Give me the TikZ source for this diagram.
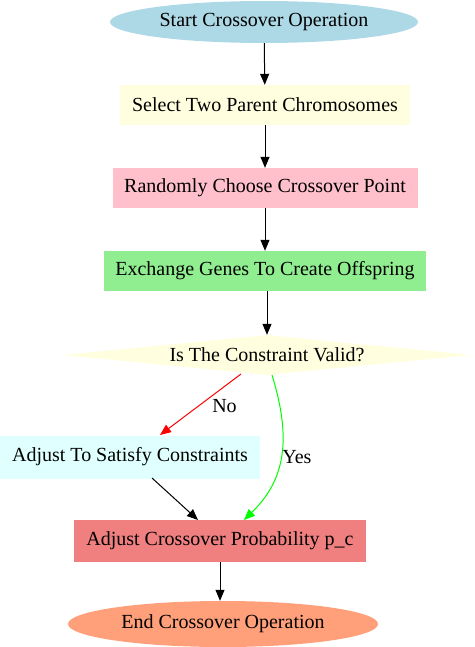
\documentclass[tikz,border=0pt]{standalone}
\usepackage{fontspec}
\setmainfont{Liberation Serif}
\usetikzlibrary{shapes.geometric,arrows.meta}
\definecolor{cstart}{RGB}{173,216,230}
\definecolor{cselect}{RGB}{255,255,224}
\definecolor{crand}{RGB}{255,192,203}
\definecolor{cexch}{RGB}{144,238,144}
\definecolor{cdiam}{RGB}{255,255,224}
\definecolor{cadj}{RGB}{224,255,255}
\definecolor{cprob}{RGB}{240,128,128}
\definecolor{cend}{RGB}{255,160,122}
\definecolor{cno}{RGB}{255,0,0}
\definecolor{cyes}{RGB}{0,255,0}
\begin{document}
\begin{tikzpicture}[x=1pt,y=-1pt,
  every node/.style={font=\fontsize{20}{24}\selectfont, inner sep=0pt},
  boxnode/.style={rectangle, minimum height=40pt},
  ellnode/.style={ellipse, minimum height=42pt},
  arr/.style={-{Triangle[length=11pt,width=9pt]}, line width=1pt},
  lbl/.style={font=\fontsize{20}{24}\selectfont}]
\useasboundingbox (0,0) rectangle (474,647);
\node[ellnode, fill=cstart, minimum width=308pt] (start) at (264,22) {Start Crossover Operation};
\node[boxnode, fill=cselect, minimum width=290pt] (select) at (265,105) {Select Two Parent Chromosomes};
\node[boxnode, fill=crand, minimum width=305pt] (rand) at (265,188) {Randomly Choose Crossover Point};
\node[boxnode, fill=cexch, minimum width=322pt] (exch) at (265,271) {Exchange Genes To Create Offspring};
\node[diamond, fill=cdiam, minimum width=410pt, minimum height=40pt, aspect=10] (diam) at (267,355) {Is The Constraint Valid?};
\node[boxnode, fill=cadj, minimum width=260pt, minimum height=43pt] (adj) at (130,457) {Adjust To Satisfy Constraints};
\node[boxnode, fill=cprob, minimum width=292pt, minimum height=42pt] (prob) at (220,541) {Adjust Crossover Probability p\_c};
\node[ellnode, fill=cend, minimum width=310pt, minimum height=46pt] (end) at (223,624) {End Crossover Operation};
\coordinate (noS) at (241,374);
\coordinate (noE) at (160,435);
\coordinate (yesS) at (272,375);
\coordinate (yesE) at (244,520);
\coordinate (adjS) at (152,478);
\coordinate (adjE) at (198,520);
\draw[arr] (start) -- (select);
\draw[arr] (select) -- (rand);
\draw[arr] (rand) -- (exch);
\draw[arr] (exch.south -| diam.north) -- (diam.north);
\draw[arr, draw=cno] (noS) -- node[lbl, pos=0.5, xshift=24pt, yshift=-2pt] {No} (noE);
\draw[arr, draw=cyes] (yesS) .. controls (292,440) and (285,480) .. node[lbl, pos=0.5, right=1pt] {Yes} (yesE);
\draw[arr] (adjS) -- (adjE);
\draw[arr] (prob.south -| 220,0) -- (end.north -| 220,0);
\end{tikzpicture}
\end{document}
